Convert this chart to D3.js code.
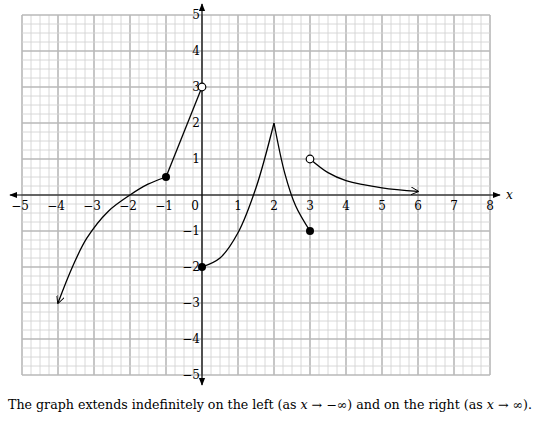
<!DOCTYPE html><html><head><meta charset="utf-8"><script src="https://cdn.jsdelivr.net/npm/d3@7"></script>
<style>body{margin:0;background:#fff}text{font-family:"DejaVu Serif","Liberation Serif",serif}</style></head><body><svg id="c" width="543" height="424"></svg>
<script>
const xTicks=[-5,-4,-3,-2,-1,1,2,3,4,5,6,7,8];
const yTicks=[-5,-4,-3,-2,-1,1,2,3,4,5];
const leftPiece=[[-4,-3],[-3.6,-2],[-3.2,-1.2],[-2.6,-0.45],[-2,0],[-1.5,0.3],[-1,0.5]];
const linePiece=[[-1,0.5],[0,3]];
const risePiece=[[0,-2],[0.5,-1.75],[1,-1.05],[1.5,0.2],[2,2]];
const fallPiece=[[2,2],[2.3,0.6],[2.6,-0.3],[3,-1]];
const rightPiece=[[3,1],[3.5,0.62],[4,0.4],[5,0.2],[6,0.1]];
const filled=[[-1,0.5],[0,-2],[3,-1]];
const open=[[0,3],[3,1]];
const svg=d3.select("#c");
const x=d3.scaleLinear().domain([-5,8]).range([22,490]);
const y=d3.scaleLinear().domain([-5,5]).range([375,15]);
const g=svg.append("g");
const isMaj=v=>Math.abs(v-Math.round(v))<1e-6;
for(let v=-5;v<=8.001;v+=0.25){g.append("line").attr("x1",x(v)).attr("x2",x(v)).attr("y1",y(-5)).attr("y2",y(5)).attr("stroke",isMaj(v)?"#b8b8b8":"#d4d4d4").attr("stroke-width",isMaj(v)?1.6:0.9);}
for(let v=-5;v<=5.001;v+=0.25){g.append("line").attr("y1",y(v)).attr("y2",y(v)).attr("x1",x(-5)).attr("x2",x(8)).attr("stroke",isMaj(v)?"#b8b8b8":"#d4d4d4").attr("stroke-width",isMaj(v)?1.6:0.9);}
const defs=svg.append("defs");
defs.append("marker").attr("id","ah").attr("viewBox","0 0 10 10").attr("refX",9).attr("refY",5).attr("markerWidth",8).attr("markerHeight",8).attr("orient","auto-start-reverse").attr("markerUnits","userSpaceOnUse")
 .append("path").attr("d","M0,0 L10,5 L0,10").attr("fill","none").attr("stroke","#000").attr("stroke-width",1.2);
defs.append("marker").attr("id","ax").attr("viewBox","0 0 10 10").attr("refX",9).attr("refY",5).attr("markerWidth",8).attr("markerHeight",8).attr("orient","auto-start-reverse").attr("markerUnits","userSpaceOnUse")
 .append("path").attr("d","M0,1 L10,5 L0,9 Z").attr("fill","#000");
svg.append("line").attr("x1",10).attr("x2",500).attr("y1",y(0)).attr("y2",y(0)).attr("stroke","#000").attr("stroke-width",1.2).attr("marker-start","url(#ax)").attr("marker-end","url(#ax)");
svg.append("line").attr("x1",x(0)).attr("x2",x(0)).attr("y1",385).attr("y2",4).attr("stroke","#000").attr("stroke-width",1.2).attr("marker-start","url(#ax)").attr("marker-end","url(#ax)");
svg.append("text").attr("x",506).attr("y",y(0)+4).attr("font-style","italic").attr("font-size",12).text("x");
const fmt=t=>t<0?"\u2212"+(-t):String(t);
xTicks.forEach(t=>svg.append("text").attr("x",x(t)+(t<0?-2:0)).attr("y",y(0)+15).attr("text-anchor","middle").attr("font-size",12).text(fmt(t)));
svg.append("text").attr("x",x(0)-7).attr("y",y(0)+15).attr("text-anchor","middle").attr("font-size",12).text("0");
yTicks.forEach(t=>svg.append("text").attr("x",x(0)-2).attr("y",y(t)+4).attr("text-anchor","end").attr("font-size",12).text(fmt(t)));
const ln=d3.line().x(d=>x(d[0])).y(d=>y(d[1])).curve(d3.curveCatmullRom);
function draw(p,ms,me){const e=svg.append("path").attr("d",ln(p)).attr("fill","none").attr("stroke","#000").attr("stroke-width",1.3);if(ms)e.attr("marker-start","url(#ah)");if(me)e.attr("marker-end","url(#ah)");}
draw(leftPiece,true,false);draw(linePiece);draw(risePiece);draw(fallPiece);draw(rightPiece,false,true);
filled.forEach(p=>svg.append("circle").attr("cx",x(p[0])).attr("cy",y(p[1])).attr("r",4).attr("fill","#000"));
open.forEach(p=>svg.append("circle").attr("cx",x(p[0])).attr("cy",y(p[1])).attr("r",3.8).attr("fill","#fff").attr("stroke","#000").attr("stroke-width",1.2));
const cap=svg.append("text").attr("x",8).attr("y",409).attr("font-size",12).attr("textLength",524).attr("lengthAdjust","spacingAndGlyphs");
cap.append("tspan").text("The graph extends indefinitely on the left (as ");
cap.append("tspan").attr("font-style","italic").text("x");
cap.append("tspan").text(" \u2192 \u2212\u221e) and on the right (as ");
cap.append("tspan").attr("font-style","italic").text("x");
cap.append("tspan").text(" \u2192 \u221e).");
</script></body></html>
